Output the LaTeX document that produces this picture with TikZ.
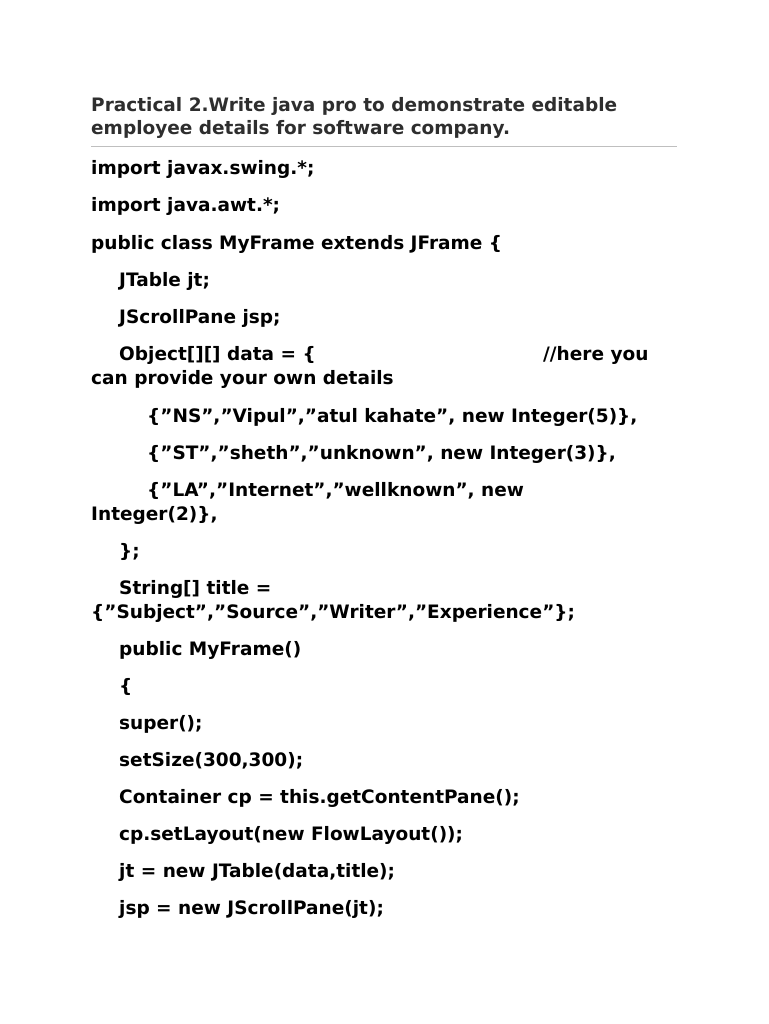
\documentclass[tikz,border=0pt]{standalone}
\usepackage{fontspec}
\setmainfont{DejaVu Sans}
\begin{document}
\begin{tikzpicture}[x=1pt,y=-1pt,
  t/.style={anchor=base west,inner sep=0pt,font=\fontsize{18.5}{22}\selectfont\bfseries,text=black},
  h/.style={t,text=black!82}]
\useasboundingbox[fill=white] (0,0) rectangle (768,1024);
\node[h] (h1) at (91,112) {Practical 2.Write java pro to demonstrate editable};
\node[h] (h2) at (91,135) {employee details for software company.};
\draw[black!25,line width=0.8pt] (91,146) -- (677,146);
\node[t] (l1) at (91,175) {import javax.swing.*;};
\node[t] (l2) at (91,212) {import java.awt.*;};
\node[t] (l3) at (91,249) {public class MyFrame extends JFrame \{};
\node[t] (l4) at (119,286) {JTable jt;};
\node[t] (l5) at (119,323) {JScrollPane jsp;};
\node[t] (l6) at (119,360) {Object[][] data = \{};
\node[t] (l6b) at (543,360) {//here you};
\node[t] (l7) at (91,384) {can provide your own details};
\node[t] (l8) at (147,422) {\{"NS","Vipul","atul kahate", new Integer(5)\},};
\node[t] (l9) at (147,459) {\{"ST","sheth","unknown", new Integer(3)\},};
\node[t] (l10) at (147,496) {\{"LA","Internet","wellknown", new};
\node[t] (l11) at (91,520) {Integer(2)\},};
\node[t] (l12) at (119,557) {\};};
\node[t] (l13) at (119,594) {String[] title =};
\node[t] (l14) at (91,618) {\{"Subject","Source","Writer","Experience"\};};
\node[t] (l15) at (119,655) {public MyFrame()};
\node[t] (l16) at (119,692) {\{};
\node[t] (l17) at (119,729) {super();};
\node[t] (l18) at (119,766) {setSize(300,300);};
\node[t] (l19) at (119,803) {Container cp = this.getContentPane();};
\node[t] (l20) at (119,840) {cp.setLayout(new FlowLayout());};
\node[t] (l21) at (119,877) {jt = new JTable(data,title);};
\node[t] (l22) at (119,914) {jsp = new JScrollPane(jt);};
\end{tikzpicture}
\end{document}
